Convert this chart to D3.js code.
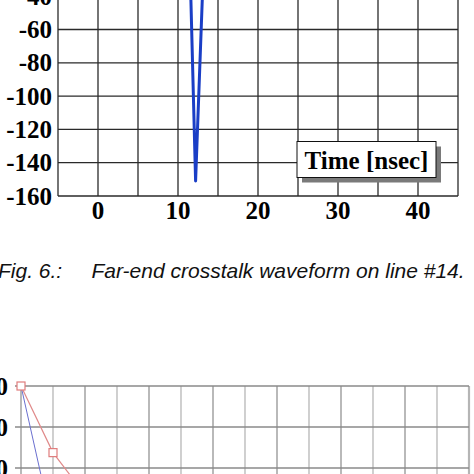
<!DOCTYPE html>
<html>
<head>
<meta charset="utf-8">
<script src="https://cdn.jsdelivr.net/npm/d3@7"></script>
<style>
  html, body { margin: 0; padding: 0; background: #fff; overflow: hidden; }
  svg { display: block; }
</style>
</head>
<body>
<svg id="chart"></svg>
<script>
// top chart: far-end crosstalk on line #14
const timeNs = [0, 11.3, 11.6, 12.2, 13.05, 13.4, 45];
const crosstalk = [0, -10, -40, -151, -40, -10, 0];
const xTickLabels = [0, 10, 20, 30, 40];
const yTickLabels = [-160, -140, -120, -100, -80, -60, -40];
const axisTitle = 'Time [nsec]';
const captionLabel = 'Fig. 6.:';
const captionText = 'Far-end crosstalk waveform on line #14.';

// bottom chart (only its top rows are visible)
const stepIndex = [0, 1, 2];
const seriesRed = [100, 67.5, 47];
const seriesBlue = [100, 30.5];
const lowerTickLabels = [100, 80, 60];

const width = 474;
const height = 474;

const svg = d3.select('#chart')
  .attr('width', width)
  .attr('height', height);

const serif = "'Liberation Serif', 'Times New Roman', serif";
const sans = "'Liberation Sans', Arial, sans-serif";

// ---- top chart ----
const x = d3.scaleLinear().domain([-5, 45]).range([58, 458]);
const y = d3.scaleLinear().domain([-160, 0]).range([196, -70.4]);

const upper = svg.append('g').attr('class', 'top-chart');

upper.append('g').attr('class', 'vgrid')
  .selectAll('line')
  .data(d3.range(-5, 46, 5))
  .enter().append('line')
  .attr('x1', d => x(d)).attr('x2', d => x(d))
  .attr('y1', y(0)).attr('y2', y(-160))
  .attr('stroke', '#2a2a2a')
  .attr('stroke-width', 1.3);

upper.append('g').attr('class', 'hgrid')
  .selectAll('line')
  .data(d3.range(-160, 1, 20))
  .enter().append('line')
  .attr('x1', x(-5)).attr('x2', x(45))
  .attr('y1', d => y(d)).attr('y2', d => y(d))
  .attr('stroke', '#2a2a2a')
  .attr('stroke-width', 1.3);

upper.append('g').attr('class', 'y-labels')
  .selectAll('text')
  .data(yTickLabels)
  .enter().append('text')
  .attr('x', 52)
  .attr('y', d => y(d))
  .attr('dy', '0.34em')
  .attr('text-anchor', 'end')
  .style('font-family', serif)
  .style('font-weight', 'bold')
  .style('font-size', '25px')
  .text(d => d);

upper.append('g').attr('class', 'x-labels')
  .selectAll('text')
  .data(xTickLabels)
  .enter().append('text')
  .attr('x', d => x(d))
  .attr('y', 219)
  .attr('text-anchor', 'middle')
  .style('font-family', serif)
  .style('font-weight', 'bold')
  .style('font-size', '25px')
  .text(d => d);

const line = d3.line()
  .x((d, i) => x(timeNs[i]))
  .y(d => y(d));

upper.append('path')
  .datum(crosstalk)
  .attr('d', line)
  .attr('fill', 'none')
  .attr('stroke', '#1a3ec6')
  .attr('stroke-width', 3)
  .attr('stroke-linejoin', 'round');

// axis title box with drop shadow
const box = upper.append('g').attr('class', 'title-box');
box.append('rect')
  .attr('x', 302).attr('y', 146.5)
  .attr('width', 139).attr('height', 36)
  .attr('fill', '#7a7a7a');
box.append('rect')
  .attr('x', 297).attr('y', 141.5)
  .attr('width', 139).attr('height', 36)
  .attr('fill', '#fff')
  .attr('stroke', '#111')
  .attr('stroke-width', 1);
box.append('text')
  .attr('x', 366.5)
  .attr('y', 168.5)
  .attr('text-anchor', 'middle')
  .style('font-family', serif)
  .style('font-weight', 'bold')
  .style('font-size', '25px')
  .text(axisTitle);

// caption
const caption = svg.append('g').attr('class', 'caption')
  .style('font-family', sans)
  .style('font-style', 'italic')
  .style('font-size', '21px')
  .attr('fill', '#111');
caption.append('text').attr('x', -2).attr('y', 278).text(captionLabel);
caption.append('text').attr('x', 91.5).attr('y', 278).text(captionText);

// ---- bottom chart ----
const x2 = d3.scaleLinear().domain([0, 14]).range([21, 469]);
const y2 = d3.scaleLinear().domain([0, 100]).range([591, 386]);

const lower = svg.append('g').attr('class', 'bottom-chart');

lower.append('g').attr('class', 'vgrid')
  .selectAll('line')
  .data(d3.range(0, 15))
  .enter().append('line')
  .attr('x1', d => x2(d)).attr('x2', d => x2(d))
  .attr('y1', y2(100)).attr('y2', y2(0))
  .attr('stroke', d => (d === 14 ? '#b5b5b5' : (d % 2 === 0 ? '#8a8a8a' : '#b0b0b0')))
  .attr('stroke-width', d => (d === 14 ? 2.2 : 1.2));

lower.append('g').attr('class', 'hgrid')
  .selectAll('line')
  .data(d3.range(0, 101, 20))
  .enter().append('line')
  .attr('x1', x2(0) - 6).attr('x2', x2(14))
  .attr('y1', d => y2(d)).attr('y2', d => y2(d))
  .attr('stroke', '#8a8a8a')
  .attr('stroke-width', 1.3);

lower.append('g').attr('class', 'y-labels')
  .selectAll('text')
  .data(lowerTickLabels)
  .enter().append('text')
  .attr('x', 8)
  .attr('y', d => y2(d))
  .attr('dy', '0.34em')
  .attr('text-anchor', 'end')
  .style('font-family', serif)
  .style('font-weight', 'bold')
  .style('font-size', '25px')
  .text(d => d);

lower.append('path')
  .datum(seriesBlue)
  .attr('d', d3.line().x((d, i) => x2(stepIndex[i])).y(d => y2(d)))
  .attr('fill', 'none')
  .attr('stroke', '#6a6fcf')
  .attr('stroke-width', 1);

lower.append('path')
  .datum(seriesRed)
  .attr('d', d3.line().x((d, i) => x2(stepIndex[i])).y(d => y2(d)))
  .attr('fill', 'none')
  .attr('stroke', '#e08a8a')
  .attr('stroke-width', 1.2);

lower.append('g').attr('class', 'markers')
  .selectAll('rect')
  .data(seriesRed)
  .enter().append('rect')
  .attr('x', (d, i) => x2(stepIndex[i]) - 4)
  .attr('y', d => y2(d) - 4)
  .attr('width', 8).attr('height', 8)
  .attr('fill', '#fff')
  .attr('stroke', '#e07c7c')
  .attr('stroke-width', 1.2);
</script>
</body>
</html>
